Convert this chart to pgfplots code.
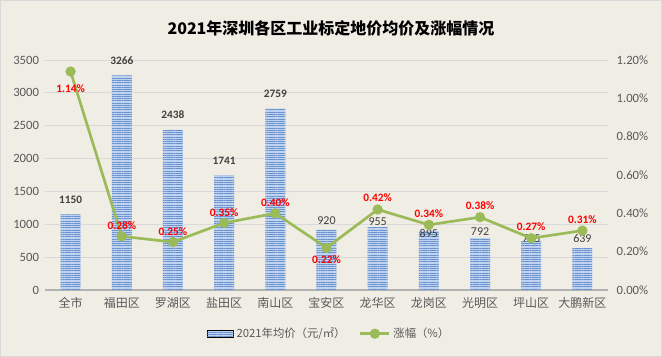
\documentclass[border=0pt]{standalone}
\usepackage{fontspec}
\setmainfont{Carlito}
\newfontfamily\cjk{Noto Sans CJK SC}
\usepackage{pgfplots}
\usepackage{pgfplotstable}
\pgfplotsset{compat=1.18}
\usetikzlibrary{patterns.meta}
\definecolor{bg}{HTML}{EFEDE4}
\definecolor{barfill}{HTML}{BFD2EF}
\definecolor{barline}{HTML}{6891CE}
\definecolor{lgreen}{HTML}{9BBB59}
\definecolor{txt}{HTML}{595959}
\definecolor{gridc}{HTML}{D9D9D9}
\tikzset{barsty/.style={fill=barfill, draw=none, postaction={pattern={Lines[angle=0,distance=1.7pt,line width=0.65pt]}, pattern color=barline}}}
% x, price, label shift (pt)
\pgfplotstableread{
x price dy
0 1150 11
1 3266 11
2 2438 11
3 1741 11
4 2759 11
}\pricetabA
\pgfplotstableread{
x price dy
5 920 7
6 955 4
7 895 -1.5
8 792 4.5
9 745 1.5
10 639 7
}\pricetabB
\pgfplotstableread{
x g lab dy
0 1.14 1.14\% -13
1 0.28 0.28\% 8
2 0.25 0.25\% 8
3 0.35 0.35\% 8
4 0.40 0.40\% 8
5 0.22 0.22\% -9
6 0.42 0.42\% 9
7 0.34 0.34\% 8.5
8 0.38 0.38\% 8.5
9 0.27 0.27\% 8.5
10 0.31 0.31\% 8.5
}\growtab
\begin{document}
\begin{tikzpicture}
\fill[bg] (0,0) rectangle (496.5pt,267.75pt);
\draw[gridc, line width=0.8pt] (0.4pt,0.4pt) rectangle (496.1pt,267.35pt);
\node[font=\cjk\bfseries\fontsize{12}{14}\selectfont, text=black] at (248.25pt,246.75pt) {2021年深圳各区工业标定地价均价及涨幅情况};
\begin{axis}[
  at={(33.75pt,50.25pt)}, anchor=south west,
  scale only axis, width=422.25pt, height=172.5pt,
  xmin=-0.5, xmax=10.5, ymin=0, ymax=3500,
  ytick={0,500,...,3500},
  xtick={0,...,10},
  xticklabels={全市,福田区,罗湖区,盐田区,南山区,宝安区,龙华区,龙岗区,光明区,坪山区,大鹏新区},
  x tick label style={font=\cjk\fontsize{9}{10}\selectfont, text=txt, yshift=-2pt},
  y tick label style={font=\fontsize{9.5}{10}\selectfont, text=txt, xshift=-1pt},
  /pgf/number format/assume math mode=true,
  /pgf/number format/1000 sep={},
  ymajorgrids, grid style={gridc, line width=0.6pt},
  axis x line*=bottom, axis y line*=left,
  y axis line style={draw=none},
  x axis line style={draw=gray!60, line width=1.5pt, -},
  major tick length=0pt,
  ytick style={draw=none}, xtick style={draw=none},
  clip=false,
]
\addplot[ybar, bar width=15pt, bar shift=0pt, barsty] table[x=x, y=price] {\pricetabA};
\addplot[ybar, bar width=15pt, bar shift=0pt, barsty] table[x=x, y=price] {\pricetabB};
\addplot[draw=none, mark=none, nodes near coords, point meta=explicit symbolic,
  visualization depends on={\thisrow{dy} \as \dy},
  every node near coord/.style={anchor=center, yshift=\dy pt, text=black!75, font=\bfseries\fontsize{8.5}{10}\selectfont}]
  table[x=x, y=price, meta=price] {\pricetabA};
\addplot[draw=none, mark=none, nodes near coords, point meta=explicit symbolic,
  visualization depends on={\thisrow{dy} \as \dy},
  every node near coord/.style={anchor=center, yshift=\dy pt, text=black!75, font=\fontsize{9}{10}\selectfont}]
  table[x=x, y=price, meta=price] {\pricetabB};
\end{axis}
\begin{axis}[
  at={(33.75pt,50.25pt)}, anchor=south west,
  scale only axis, width=422.25pt, height=172.5pt,
  xmin=-0.5, xmax=10.5, ymin=0, ymax=1.2,
  ytick={0,0.2,...,1.2},
  axis x line=none, axis y line*=right,
  y axis line style={draw=none},
  ytick style={draw=none}, major tick length=0pt,
  yticklabel={\pgfmathprintnumber[fixed,fixed zerofill,precision=2]{\tick}\%},
  y tick label style={font=\fontsize{9.5}{10}\selectfont, text=txt, xshift=3pt},
  /pgf/number format/assume math mode=true,
  clip=false,
  legend style={at={(0.505,-0.19)}, anchor=center, draw=none, fill=none, legend columns=2,
    font=\cjk\fontsize{8.5}{10}\selectfont, text=txt, /tikz/every even column/.append style={column sep=8pt}},
  legend image code/.code={\draw[#1] (0pt,-2.6pt) rectangle (20pt,2.6pt);},
]
\addlegendimage{barsty}
\addlegendentry{2021年均价（元/㎡）}
\addplot[lgreen, line width=2pt, mark=*, mark size=2.8pt, mark options={fill=lgreen, draw=lgreen},
  legend image code/.code={\draw[lgreen, line width=2pt] (0pt,0pt) -- (22pt,0pt); \fill[lgreen] (11pt,0pt) circle (2.8pt);}]
  table[x=x, y=g] {\growtab};
\addlegendentry{涨幅（\%）}
\addplot[draw=none, mark=none, nodes near coords, point meta=explicit symbolic,
  visualization depends on={\thisrow{dy} \as \dy},
  every node near coord/.style={font=\bfseries\fontsize{8.5}{10}\selectfont, text=red, anchor=center, yshift=\dy pt}, forget plot]
  table[x=x, y=g, meta=lab] {\growtab};
\end{axis}
\end{tikzpicture}
\end{document}
